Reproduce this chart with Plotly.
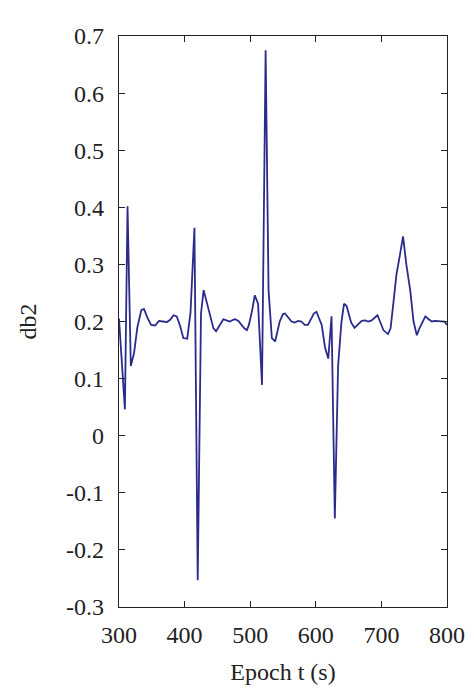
import plotly.graph_objects as go

# Data
epoch_t = [300, 305, 309, 313, 318, 323, 328, 334, 338, 344, 349, 355, 361, 367, 373, 378,
           383, 388, 393, 398, 404, 409, 415, 420, 425, 429, 434, 439, 444, 448, 453, 459,
           464, 469, 474, 477, 482, 487, 491, 495, 498, 503, 507, 512, 518, 523.5, 528, 533,
           538, 545, 550, 553, 558, 563, 568, 573, 578, 583, 588, 593, 597, 601, 605, 609,
           614, 619, 624, 629, 634, 639, 643, 647, 651, 654, 659, 665, 670, 675, 680, 685,
           690, 694, 699, 703, 710, 714, 719, 723, 728, 733, 738, 744, 749, 754, 758, 762,
           767, 772, 777, 782, 787, 792, 796, 800]
db2 = [0.205, 0.12, 0.046, 0.402, 0.122, 0.145, 0.19, 0.22, 0.222, 0.205, 0.194, 0.193,
       0.201, 0.200, 0.199, 0.203, 0.211, 0.209, 0.193, 0.171, 0.170, 0.215, 0.364, -0.253,
       0.214, 0.255, 0.234, 0.210, 0.188, 0.183, 0.193, 0.204, 0.202, 0.200, 0.203, 0.204,
       0.201, 0.193, 0.188, 0.185, 0.194, 0.220, 0.246, 0.231, 0.089, 0.675, 0.254, 0.171,
       0.165, 0.200, 0.213, 0.214, 0.207, 0.200, 0.198, 0.201, 0.200, 0.194, 0.194, 0.205,
       0.214, 0.217, 0.205, 0.194, 0.155, 0.135, 0.209, -0.145, 0.122, 0.198, 0.231, 0.227,
       0.210, 0.198, 0.189, 0.196, 0.201, 0.202, 0.200, 0.202, 0.207, 0.211, 0.197, 0.185,
       0.178, 0.188, 0.24, 0.283, 0.315, 0.349, 0.30, 0.254, 0.200, 0.176, 0.188, 0.198,
       0.209, 0.204, 0.200, 0.201, 0.201, 0.201, 0.200, 0.194]

x_ticks = [300, 400, 500, 600, 700, 800]
x_ticklabels = ["300", "400", "500", "600", "700", "800"]
y_ticks = [-0.3, -0.2, -0.1, 0, 0.1, 0.2, 0.3, 0.4, 0.5, 0.6, 0.7]
y_ticklabels = ["-0.3", "-0.2", "-0.1", "0", "0.1", "0.2", "0.3", "0.4", "0.5", "0.6", "0.7"]

font_family = "Liberation Serif"

fig = go.Figure()
fig.add_trace(go.Scatter(
    x=epoch_t, y=db2, mode="lines",
    line=dict(color="#2b2b8c", width=1.8),
    showlegend=False,
))

axis_common = dict(
    showgrid=False, zeroline=False,
    showline=True, linecolor="#222222", linewidth=1.3, mirror="allticks",
    ticks="inside", ticklen=6, tickwidth=1.3, tickcolor="#222222",
    tickfont=dict(family=font_family, size=24, color="#222222"),
)

fig.update_layout(
    width=474, height=695,
    margin=dict(l=111, r=35, t=28, b=96),
    paper_bgcolor="white", plot_bgcolor="white",
    font=dict(family=font_family, color="#222222"),
    xaxis=dict(
        range=[300, 800], tickvals=x_ticks, ticktext=x_ticklabels,
        title=dict(text="Epoch t (s)", font=dict(family=font_family, size=24, color="#222222"), standoff=16),
        ticklabelstandoff=6,
        **axis_common,
    ),
    yaxis=dict(
        range=[-0.3, 0.7], tickvals=y_ticks, ticktext=y_ticklabels,
        title=dict(text="db2", font=dict(family=font_family, size=24, color="#222222"), standoff=22),
        ticklabelstandoff=9,
        **axis_common,
    ),
)

fig.write_html("out.html")
